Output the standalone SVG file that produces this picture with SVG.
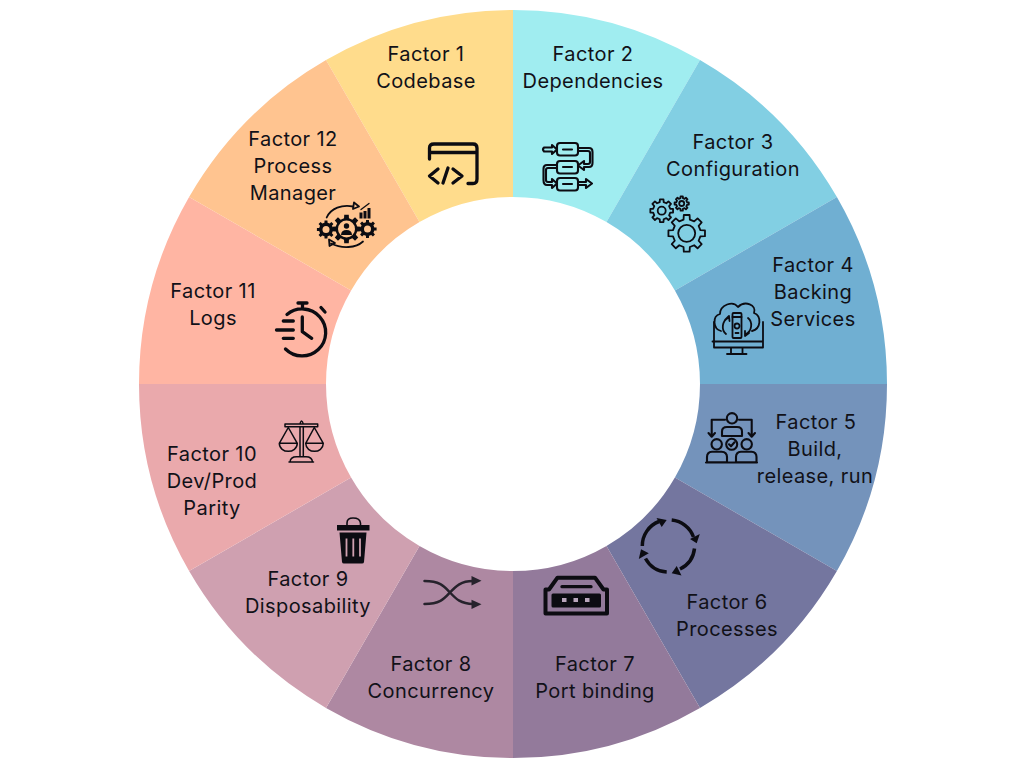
<svg xmlns="http://www.w3.org/2000/svg" xmlns:xlink="http://www.w3.org/1999/xlink" width="1024" height="768" viewBox="0 0 1024 768">
<style>
text{font-family:"Inter","Noto Sans","Liberation Sans",sans-serif;font-size:20px;letter-spacing:.4px;fill:#111118;text-anchor:middle}
.l{fill:none;stroke:#0c0c12;stroke-width:1.8;stroke-linecap:round;stroke-linejoin:round}
.t{fill:none;stroke:#0c0c12;stroke-width:2.1;stroke-linecap:round;stroke-linejoin:round}
.m{fill:none;stroke:#0c0c12;stroke-width:3.300;stroke-linecap:round;stroke-linejoin:round}
.f{fill:#0c0c12;stroke:none}
.gear{vector-effect:non-scaling-stroke}
</style>
<defs>
<path id="g" class="gear" d="M7.4-1.71 9.88-1.56 9.88 1.56 7.4 1.71 6.45 4.03 8.09 5.88 5.88 8.09 4.03 6.45 1.71 7.4 1.56 9.88-1.56 9.88-1.71 7.4-4.03 6.45-5.88 8.09-8.09 5.88-6.45 4.03-7.4 1.71-9.88 1.56-9.88-1.56-7.4-1.71-6.45-4.03-8.09-5.88-5.88-8.09-4.03-6.45-1.71-7.4-1.56-9.88 1.56-9.88 1.71-7.4 4.03-6.45 5.88-8.09 8.09-5.88 6.45-4.03Z"/>
</defs>
<rect width="1024" height="768" fill="#fff"/>

<g id="factor1">
<path d="M513 10A374 374 0 0 0 326 60.100L419.500 222.100A187 187 0 0 1 513 197Z" fill="#FFDC8C"/>
<text x="426" y="61">Factor 1</text><text x="426" y="88">Codebase</text>
<path class="m" d="M429.500 159V148Q429.500 144 434 144H473Q477 144 477 148V179Q477 183.500 473 183.500H468M430 152.500H477M438 169 429.500 176 438 183M448 168 443 183M453 169 462 176 453 183"/>
</g>

<g id="factor2">
<path d="M513 10A374 374 0 0 1 700 60.100L606.500 222.100A187 187 0 0 0 513 197Z" fill="#A0EDF0"/>
<text x="593" y="61">Factor 2</text><text x="593" y="88">Dependencies</text>
<g class="t">
<rect x="557" y="143" width="21" height="12.500" rx="3"/><rect x="557" y="161" width="21" height="12.500" rx="3"/><rect x="557" y="178" width="21" height="12.500" rx="3"/>
<path d="M563 149.500H572M563 167H572M563 184H572"/>
<path d="M544 147.500H552V145L557 149.500 552 154V151.500H544Q542 149.500 544 147.500ZM578 148H589Q592.500 148 592.500 152V163Q592.500 167 589 167H584V170L578 165.500 584 161V164H588Q590 164 590 162V153Q590 151 588 151H578M557 165H547Q543.500 165 543.500 169V180Q543.500 185 547 185H552V188L557 183.500 552 179V182H548Q546 182 546 180V170Q546 168 548 168H557M578 182H586V179L592 183.500 586 188V185H578"/>
</g>
</g>

<g id="factor3">
<path d="M700 60.100A374 374 0 0 1 836.900 197L674.900 290.500A187 187 0 0 0 606.500 222.100Z" fill="#82CFE3"/>
<text x="733" y="149">Factor 3</text><text x="733" y="176">Configuration</text>
<g class="l">
<use xlink:href="#g" href="#g" transform="translate(661.700 210.700) scale(1.15)"/><circle cx="661.700" cy="210.700" r="4"/>
<use xlink:href="#g" href="#g" transform="translate(681.700 203.500) scale(.72)"/><circle cx="681.700" cy="203.500" r="2.500"/>
<use xlink:href="#g" href="#g" transform="translate(686.700 233.300) scale(1.85)"/><circle cx="686.700" cy="233.300" r="8.500"/>
</g>
</g>

<g id="factor4">
<path d="M836.900 197A374 374 0 0 1 887 384H700A187 187 0 0 0 674.900 290.500Z" fill="#70AFD2"/>
<text x="813" y="272">Factor 4</text><text x="813" y="299">Backing</text><text x="813" y="326">Services</text>
<g class="l">
<path d="M714 322V347.500H763V322M712.500 341.500H763M731 348V353.500M742.500 348V353.500M727 354H746.500"/>
<path d="M721 331C713 329 712 316 720 314 720 305 733 300 738 307 745 300 757 305 754 313 762 316 761 329 752 331"/>
<rect x="732.500" y="313" width="9" height="25" rx="1"/>
<path d="M732.500 317H741.500M734.500 326a2.500 2.500 0 1 0 5 0a2.500 2.500 0 1 0-5 0M735.500 333H738.500"/>
<path d="M728 318C722 321 721 330 726 334M746 334C752 331 753 322 748 318M725 320 729 316 729.500 321M749 333 745 336 745 331"/>
</g>
</g>

<g id="factor5">
<path d="M887 384A374 374 0 0 1 836.900 571L674.900 477.500A187 187 0 0 0 700 384Z" fill="#7493BB"/>
<text x="816" y="429">Factor 5</text><text x="815" y="456">Build,</text><text x="815" y="483">release, run</text>
<g class="t">
<circle cx="732" cy="418.300" r="5.200"/><path d="M722 436V431.500Q722 427 727 427H737Q742 427 742 431.500V436ZM725 419.700H711.700V436M708.500 433 711.700 436.700 715 433M739 419.700H751.700V436M748.500 433 751.700 436.700 755 433"/>
<circle cx="716.700" cy="444.300" r="5.200"/><circle cx="746.700" cy="444.300" r="5.200"/><circle cx="731.700" cy="444.300" r="5.500"/>
<path d="M729 444.300 731 446.300 734.500 442.300M707 462.300V457Q707 452 712 451.700H721.500Q727 452 727 457V462.300ZM736 462.300V457Q736 452 741 451.700H751.500Q756.500 452 756.500 457V462.300ZM706 462.500H757"/>
</g>
</g>

<g id="factor6">
<path d="M836.900 571A374 374 0 0 1 700 707.900L606.500 545.900A187 187 0 0 0 674.900 477.500Z" fill="#74769F"/>
<text x="727" y="609">Factor 6</text><text x="727" y="636">Processes</text>
<g>
<path class="m" style="stroke-width:3.500;stroke-linecap:butt" d="M642.300 546A26 26 0 0 1 659 521.500M671.700 520A26 26 0 0 1 693.500 537M694.500 548.500A26 26 0 0 1 680 569M666.700 572A26 26 0 0 1 645.500 558.500"/>
<path class="f" d="M666.700 520 656.500 518 661.700 527ZM696.700 543.300 699.800 534 690 539ZM671.700 573.300 681.500 575.500 676.700 566ZM641 549.300 638.800 559 648.800 553.300Z"/>
</g>
</g>

<g id="factor7">
<path d="M700 707.900A374 374 0 0 1 513 758V571A187 187 0 0 0 606.500 545.900Z" fill="#937A9B"/>
<text x="595" y="671">Factor 7</text><text x="595" y="698">Port binding</text>
<path d="M545.500 589.500 H549 L557.500 577.700H595L603.500 589.500H607V613.500H545.500Z" fill="none" stroke="#0c0c12" stroke-width="4" stroke-linejoin="round"/>
<path class="f" d="M553 593.500H599.500Q601 593.500 601 595V606Q601 607.500 599.500 607.500H553Q551.500 607.500 551.500 606V595Q551.500 593.500 553 593.500Z"/>
<path class="f" d="M562 598H566.500V602H562ZM573.500 598H578V602H573.500ZM585 598H589.500V602H585Z" style="fill:#B9A5BC"/>
<path class="m" d="M562 586.700H591"/>
</g>

<g id="factor8">
<path d="M513 758A374 374 0 0 1 326 707.900L419.500 545.900A187 187 0 0 0 513 571Z" fill="#AE88A2"/>
<text x="431" y="671">Factor 8</text><text x="431" y="698">Concurrency</text>
<path d="M424.500 581C440 581 444 586 450 592.500C456 599 461 604 473 604M424.500 604C440 604 444 599 450 592.500C456 586 461 581 473 581" fill="none" stroke="#26222c" stroke-width="2.500" stroke-linecap="round"/>
<path d="M481.500 580.700 471.500 576V585.500ZM481.500 604.300 471.500 599.700V609Z" fill="#26222c"/>
</g>

<g id="factor9">
<path d="M326 707.900A374 374 0 0 1 189.100 571L351.100 477.500A187 187 0 0 0 419.500 545.900Z" fill="#CFA0B0"/>
<text x="308" y="586">Factor 9</text><text x="308" y="613">Disposability</text>
<path class="f" d="M337 525H369.500V530.500H337ZM339.500 532.500H366.500L364 562Q363.800 563.500 362 563.500H344Q342.300 563.500 342 562Z"/>
<path d="M347 525V523Q347 518 353 518Q360 518 360.500 523V525" fill="none" stroke="#0c0c12" stroke-width="1.600"/>
<path d="M346.500 538.500V556.500M353.300 538.500V556.500M360 538.500V556.500" stroke="#CFA0B0" stroke-width="1.800" fill="none"/>
</g>

<g id="factor10">
<path d="M189.100 571A374 374 0 0 1 139 384H326A187 187 0 0 0 351.100 477.500Z" fill="#EAA9AC"/>
<text x="212" y="461">Factor 10</text><text x="212" y="488">Dev/Prod</text><text x="212" y="515">Parity</text>
<g class="l" style="stroke-width:1.500">
<path d="M285 424H317.700V426.800H285ZM300 426.800V456.700M303.300 426.800V456.700M300 424Q301.600 418 303.300 424M290 462H312.500Q312 456.700 306 456.700H296.500Q290.500 456.700 290 462ZM289 462H313.500"/>
<path d="M288.300 427.500 279.300 443.300H297.300ZM279.300 443.300C279.500 454 297 454 297.300 443.300M314.300 427.500 305.700 443.300H323.300ZM305.700 443.300C306 454 323 454 323.300 443.300"/>
</g>
</g>

<g id="factor11">
<path d="M139 384A374 374 0 0 1 189.100 197L351.100 290.500A187 187 0 0 0 326 384Z" fill="#FFB5A3"/>
<text x="213" y="298">Factor 11</text><text x="213" y="325">Logs</text>
<path class="m" d="M287 314.500A23.500 23.500 0 1 1 285.500 349M298 303H307M302.500 303V308M321 307.500 325 312M302.300 317V331.700L311.700 338.300M283.300 321H293.300M276.500 330H293.300M283.300 338.300H293.300"/>
</g>

<g id="factor12">
<path d="M189.100 197A374 374 0 0 1 326 60.100L419.500 222.100A187 187 0 0 0 351.100 290.500Z" fill="#FFC490"/>
<text x="293" y="146">Factor 12</text><text x="293" y="173">Process</text><text x="293" y="200">Manager</text>
<g>
<use xlink:href="#g" href="#g" class="f" transform="translate(326 229.500) scale(.92)"/><circle cx="326" cy="229.500" r="3.500" fill="#FFC490"/>
<use xlink:href="#g" href="#g" class="f" transform="translate(367.500 229) scale(.92)"/><circle cx="367.500" cy="229" r="3.500" fill="#FFC490"/>
<use xlink:href="#g" href="#g" class="f" transform="translate(346.500 229) scale(1.45)"/><circle cx="346.500" cy="229" r="8.500" fill="#FFC490"/>
<circle class="f" cx="346.500" cy="226" r="2.700"/><path class="f" d="M341 235Q341.200 230 346.500 230Q351.800 230 352 235Z"/>
<path class="l" d="M326.700 217.500C331 208 342 204.500 353 206.500M363 241.500C356 248 342 249 331 243.500"/>
<path class="l" d="M354 202.500 359 206.500 353 209ZM329 239.500 329.500 246 335 243Z"/>
<path class="f" d="M359.500 212.500H362.500V218.500H359.500ZM363.500 211H366.500V218.500H363.500ZM367.500 208H370.500V218.500H367.500Z"/>
<path class="l" style="stroke-width:1.300" d="M361 209.500 369 203.500"/>
</g>
</g>
</svg>
